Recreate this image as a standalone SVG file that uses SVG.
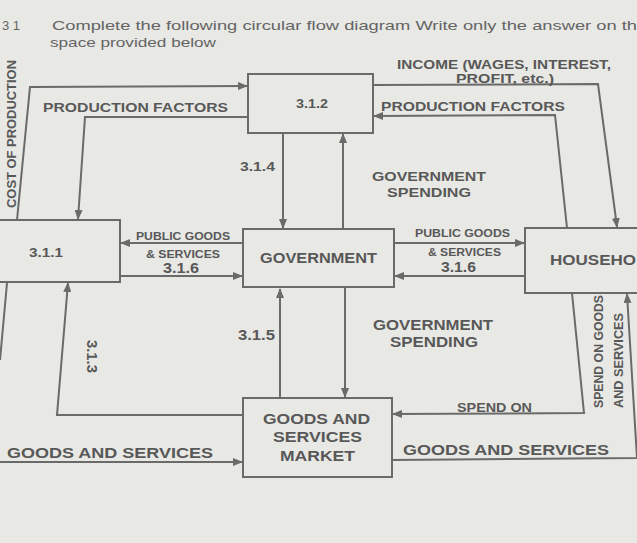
<svg xmlns="http://www.w3.org/2000/svg" width="637" height="543" viewBox="0 0 637 543">
<defs>
<style>
.bg{fill:#e8e8e5}
.box{fill:none;stroke:#6a6a6a;stroke-width:2}
.ln{fill:none;stroke:#6a6a6a;stroke-width:2;marker-end:url(#ah)}
.pl{fill:none;stroke:#6a6a6a;stroke-width:2}
text{font-family:"Liberation Sans",Arial,sans-serif;fill:#585858}
.b{font-weight:bold}
.t{fill:#646464;font-size:13.5px}
</style>
<marker id="ah" viewBox="0 0 10 8" refX="9" refY="4" markerWidth="5" markerHeight="4" orient="auto" markerUnits="strokeWidth">
<path d="M0,0 L10,4 L0,8 z" fill="#6a6a6a"/>
</marker>
</defs>
<rect class="bg" x="0" y="0" width="637" height="543"/>

<g id="title">
<text class="t" x="2" y="30" textLength="18" lengthAdjust="spacingAndGlyphs">3 1</text>
<text class="t" x="52" y="30" textLength="585" lengthAdjust="spacingAndGlyphs">Complete the following circular flow diagram  Write only the answer on th</text>
<text class="t" x="50" y="47" textLength="166" lengthAdjust="spacingAndGlyphs">space provided below</text>
</g>

<g id="connectors">
<polyline class="ln" points="17,220 30,87 247,86"/>
<polyline class="ln" points="248,117 85,117 78,219"/>
<polyline class="ln" points="283,133 283,228"/>
<polyline class="ln" points="343,229 343,134"/>
<polyline class="ln" points="373,85 598,84 617,227"/>
<polyline class="ln" points="567,228 555,115 374,116"/>
<polyline class="ln" points="243,243 121,243"/>
<polyline class="ln" points="120,276 242,276"/>
<polyline class="ln" points="394,243 524,243"/>
<polyline class="ln" points="525,276 395,276"/>
<polyline class="ln" points="243,415 57,415 68,283"/>
<polyline class="ln" points="280,398 280,289"/>
<polyline class="ln" points="345,287 345,397"/>
<polyline class="ln" points="572,293 584,413 393,414"/>
<polyline class="ln" points="392,460 637,458 627,294"/>
<polyline class="ln" points="0,462 242,462"/>
<polyline class="pl" points="7,283 0,360"/>
</g>

<g id="labels" class="b">
<text x="43" y="112" font-size="13" textLength="185" lengthAdjust="spacingAndGlyphs">PRODUCTION FACTORS</text>
<text x="381" y="111" font-size="13" textLength="184" lengthAdjust="spacingAndGlyphs">PRODUCTION FACTORS</text>
<text x="397" y="69" font-size="12.5" textLength="214" lengthAdjust="spacingAndGlyphs">INCOME (WAGES, INTEREST,</text>
<text x="456" y="83" font-size="12.5" textLength="98" lengthAdjust="spacingAndGlyphs">PROFIT, etc.)</text>
<text transform="translate(16,208) rotate(-90)" font-size="13.5" textLength="148" lengthAdjust="spacingAndGlyphs">COST OF PRODUCTION</text>
<text x="240" y="171" font-size="13" textLength="35" lengthAdjust="spacingAndGlyphs">3.1.4</text>
<text x="372" y="181" font-size="13.5" textLength="114" lengthAdjust="spacingAndGlyphs">GOVERNMENT</text>
<text x="387" y="197" font-size="13.5" textLength="84" lengthAdjust="spacingAndGlyphs">SPENDING</text>
<text x="136" y="240" font-size="11" textLength="94" lengthAdjust="spacingAndGlyphs">PUBLIC GOODS</text>
<text x="146" y="258" font-size="11" textLength="74" lengthAdjust="spacingAndGlyphs">&amp; SERVICES</text>
<text x="163" y="273" font-size="14" textLength="36" lengthAdjust="spacingAndGlyphs">3.1.6</text>
<text x="415" y="237" font-size="11" textLength="95" lengthAdjust="spacingAndGlyphs">PUBLIC GOODS</text>
<text x="428" y="256" font-size="11" textLength="73" lengthAdjust="spacingAndGlyphs">&amp; SERVICES</text>
<text x="441" y="272" font-size="14" textLength="35" lengthAdjust="spacingAndGlyphs">3.1.6</text>
<text transform="translate(87,340) rotate(90)" font-size="14" textLength="33" lengthAdjust="spacingAndGlyphs">3.1.3</text>
<text x="238" y="340" font-size="14" textLength="37" lengthAdjust="spacingAndGlyphs">3.1.5</text>
<text x="373" y="330" font-size="14" textLength="120" lengthAdjust="spacingAndGlyphs">GOVERNMENT</text>
<text x="390" y="347" font-size="14" textLength="88" lengthAdjust="spacingAndGlyphs">SPENDING</text>
<text x="457" y="412" font-size="12.5" textLength="75" lengthAdjust="spacingAndGlyphs">SPEND ON</text>
<text transform="translate(603,408) rotate(-90)" font-size="13.5" textLength="113" lengthAdjust="spacingAndGlyphs">SPEND ON GOODS</text>
<text transform="translate(623,408) rotate(-90)" font-size="13.5" textLength="95" lengthAdjust="spacingAndGlyphs">AND SERVICES</text>
<text x="7" y="458" font-size="15" textLength="206" lengthAdjust="spacingAndGlyphs">GOODS AND SERVICES</text>
<text x="403" y="455" font-size="15" textLength="206" lengthAdjust="spacingAndGlyphs">GOODS AND SERVICES</text>
</g>

<g id="node-312">
<rect class="box" x="248" y="74" width="125" height="59"/>
<text class="b" x="296" y="108" font-size="13" textLength="32" lengthAdjust="spacingAndGlyphs">3.1.2</text>
</g>
<g id="node-311">
<rect class="box" x="-5" y="220" width="125" height="62"/>
<text class="b" x="29" y="257" font-size="13" textLength="34" lengthAdjust="spacingAndGlyphs">3.1.1</text>
</g>
<g id="node-government">
<rect class="box" x="243" y="229" width="151" height="58"/>
<text class="b" x="260" y="263" font-size="14" textLength="117" lengthAdjust="spacingAndGlyphs">GOVERNMENT</text>
</g>
<g id="node-households">
<rect class="box" x="525" y="228" width="120" height="65"/>
<text class="b" x="550" y="265" font-size="15" textLength="86" lengthAdjust="spacingAndGlyphs">HOUSEHO</text>
</g>
<g id="node-market">
<rect class="box" x="243" y="398" width="149" height="79"/>
<text class="b" x="263" y="424" font-size="15" textLength="107" lengthAdjust="spacingAndGlyphs">GOODS AND</text>
<text class="b" x="273" y="442" font-size="15" textLength="89" lengthAdjust="spacingAndGlyphs">SERVICES</text>
<text class="b" x="280" y="461" font-size="15" textLength="75" lengthAdjust="spacingAndGlyphs">MARKET</text>
</g>
</svg>
